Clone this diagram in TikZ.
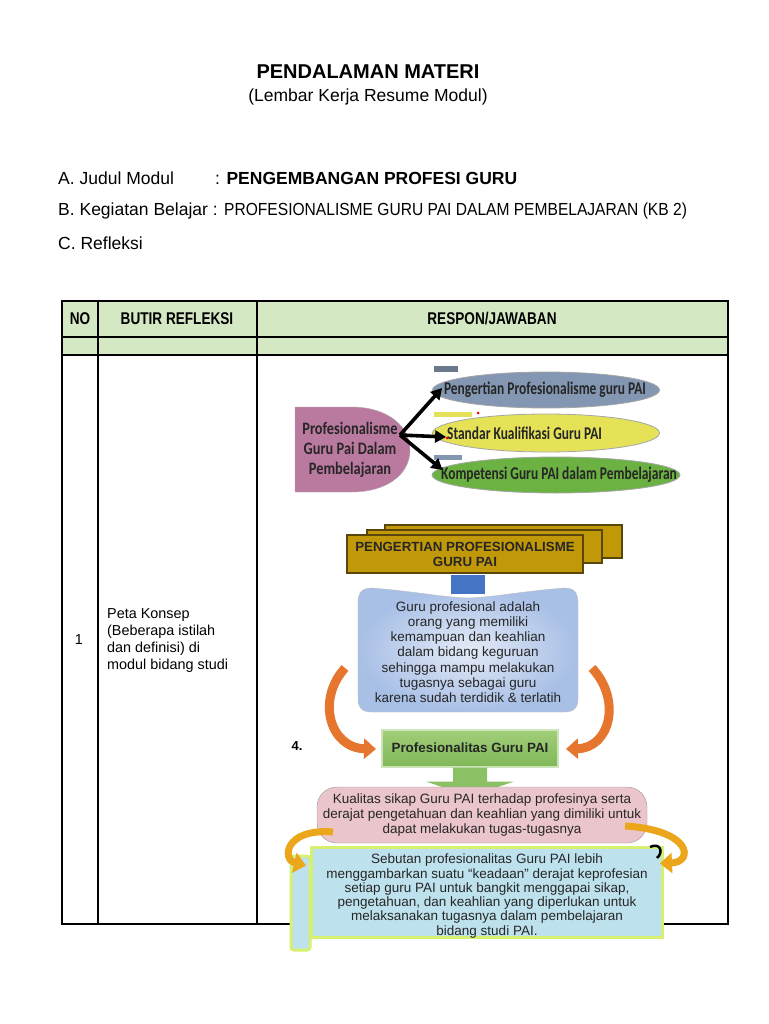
\documentclass[tikz,border=0pt]{standalone}
\usepackage{fontspec}
\usepackage{graphicx}
\setmainfont{Liberation Sans}
\newfontfamily\calib{Carlito}
\usetikzlibrary{shapes.geometric,arrows.meta,calc}
\definecolor{headgreen}{RGB}{213,232,196}
\definecolor{mauve}{RGB}{186,122,160}
\definecolor{bubbleblue}{RGB}{132,151,178}
\definecolor{bubbleyellow}{RGB}{229,226,88}
\definecolor{bubblegreen}{RGB}{108,178,66}
\definecolor{goldfill}{RGB}{193,152,8}
\definecolor{golddark}{RGB}{88,70,12}
\definecolor{connblue}{RGB}{70,116,196}
\definecolor{orangecurl}{RGB}{230,118,46}
\definecolor{goldcurl}{RGB}{236,166,28}
\definecolor{pinkfill}{RGB}{235,197,204}
\definecolor{cyanfill}{RGB}{190,226,237}
\definecolor{limeedge}{RGB}{214,240,112}
\definecolor{defcentre}{RGB}{228,235,247}
\definecolor{defedge}{RGB}{168,191,230}
\definecolor{greenedge}{RGB}{205,228,185}
\definecolor{greentop}{RGB}{162,206,122}
\definecolor{greenbottom}{RGB}{128,184,88}
\definecolor{calloutgreen}{RGB}{140,192,100}
\newcommand{\narrowtext}[2]{\scalebox{#1}[1]{#2}}

\tikzset{
  doctext/.style={inner sep=0pt, font=\fontsize{17.5}{21}\selectfont},
  headtext/.style={inner sep=0pt, font=\fontsize{17}{20}\selectfont\bfseries},
  celltext/.style={inner sep=0pt, align=left, font=\fontsize{14.4}{17}\selectfont},
  mapbubble/.style={ellipse, draw=black!35, line width=0.8pt, inner sep=0pt},
  maplabel/.style={inner sep=0pt, text=black!85, font=\calib\fontsize{17.9}{20}\selectfont\bfseries},
  chartbox/.style={inner sep=0pt, align=center, text=black!85, font=\fontsize{13.5}{15.2}\selectfont},
  goldbox/.style={fill=goldfill, draw=golddark, line width=1.5pt},
  bigarrow/.style={line width=3.6pt, -{Triangle[length=11pt,width=12pt]}},
  curlarrow/.style={line width=9pt, -{Triangle[length=12pt,width=20pt]}},
}

\begin{document}
\begin{tikzpicture}[x=1pt,y=-1pt]
    \useasboundingbox (0,0) rectangle (768,1024);
    \fill[white] (0,0) rectangle (768,1024);

    % Heading of the sheet
    \node[doctext, font=\fontsize{20}{24}\selectfont\bfseries] (title) at (368,72) {PENDALAMAN MATERI};
    \node[doctext] (subtitle) at (368,97) {(Lembar Kerja Resume Modul)};
    \node[doctext, anchor=west] (judulKey) at (58,178) {A. Judul Modul};
    \node[doctext, anchor=west] (judulVal) at (215,178) {: \textbf{PENGEMBANGAN PROFESI GURU}};
    \node[doctext, anchor=west] (kegiatan) at (58,211) {B. Kegiatan Belajar : \narrowtext{0.89}{PROFESIONALISME GURU PAI DALAM PEMBELAJARAN (KB 2)}};
    \node[doctext, anchor=west] (refleksi) at (58,243) {C. Refleksi};

    % Table
    \fill[headgreen] (62,301) rectangle (728,355);
    \draw[line width=1.1pt] (62,301) rectangle (728,924);
    \draw[line width=1.1pt] (62,337) -- (728,337);
    \draw[line width=1.1pt] (62,355) -- (728,355);
    \draw[line width=1.1pt] (98,301) -- (98,924);
    \draw[line width=1.1pt] (257,301) -- (257,924);
    \node[headtext] (hNo) at (80,319) {\narrowtext{0.8}{NO}};
    \node[headtext] (hButir) at (177,319) {\narrowtext{0.8}{BUTIR REFLEKSI}};
    \node[headtext] (hRespon) at (492,319) {\narrowtext{0.8}{RESPON/JAWABAN}};
    \node[celltext] (no1) at (79,640) {1};
    \node[celltext, anchor=west] (butir1) at (107,641) {Peta Konsep\\(Beberapa istilah\\dan definisi) di\\modul bidang studi};

    % Concept map: centre shape and three bubbles
    \draw[draw=black!30, fill=mauve] (295,407) -- (352,407) .. controls (386,407) and (410,425) .. (410,450)
        .. controls (410,475) and (386,492) .. (352,492) -- (295,492) -- cycle;
    \node[maplabel, font=\calib\fontsize{17.5}{20}\selectfont\bfseries] (profNode) at (350,450)
        {\narrowtext{0.82}{\begin{tabular}{@{}c@{}}Profesionalisme\\Guru Pai Dalam\\Pembelajaran\end{tabular}}};

    \fill[bubbleblue!80!black] (434,366) rectangle (458,372);
    \fill[bubbleyellow] (434,412) rectangle (472,417);
    \fill[bubbleblue] (434,455) rectangle (462,460);
    \node[mapbubble, fill=bubbleblue, minimum width=227pt, minimum height=36pt] (elPeng) at (546,390) {};
    \node[mapbubble, fill=bubbleyellow, minimum width=227pt, minimum height=38pt] (elStandar) at (546,433) {};
    \node[mapbubble, fill=bubblegreen, minimum width=248pt, minimum height=36pt] (elKomp) at (556,475) {};
    \node[maplabel] (lbPeng) at (545,390) {\narrowtext{0.75}{Pengertian Profesionalisme guru PAI}};
    \node[maplabel, anchor=west] (lbStandar) at (447,433) {\narrowtext{0.75}{Standar Kualifikasi Guru PAI}};
    \node[maplabel] (lbKomp) at (559,475) {\narrowtext{0.75}{Kompetensi Guru PAI dalam Pembelajaran}};
    \fill[red] (478,413) circle (1.5);

    \coordinate (hub) at (400,435);
    \draw[bigarrow] (hub) -- ($(elPeng.west)+(10,-2)$);
    \draw[bigarrow] (hub) -- ($(elStandar.west)+(14,4)$);
    \draw[bigarrow] (hub) -- ($(elKomp.west)+(11,-5)$);
    \fill[red] (447,438) circle (1.5);

    % Definition block
    \draw[goldbox] (385,525) rectangle (622,558);
    \draw[goldbox] (367,530) rectangle (602,563);
    \node[goldbox, minimum width=236pt, minimum height=38pt, inner sep=0pt, align=center, text=black!85,
        font=\fontsize{13.3}{15}\selectfont\bfseries] (pengHead) at (465,554) {PENGERTIAN PROFESIONALISME\\GURU PAI};
    \fill[connblue] ($(pengHead.south)+(-14,1)$) rectangle ($(pengHead.south)+(20,20)$);

    \coordinate (curlL) at (345,668);
    \coordinate (curlR) at (592,668);
    \draw[curlarrow, orangecurl] (curlL) .. controls (316,700) and (330,748) .. (376,749);
    \draw[curlarrow, orangecurl] (curlR) .. controls (622,700) and (610,748) .. (566,749);

    \draw[draw=black!25, inner color=defcentre, outer color=defedge]
        (358,604) .. controls (358,592) and (362,588) .. (372,588) .. controls (420,592) and (440,597) .. (468,598)
        .. controls (496,597) and (516,592) .. (564,588) .. controls (574,588) and (578,592) .. (578,604)
        -- (578,698) .. controls (578,708) and (574,712) .. (564,712) -- (372,712)
        .. controls (362,712) and (358,708) .. (358,698) -- cycle;
    \node[chartbox, minimum width=220pt, minimum height=120pt] (defBox) at (468,652)
        {Guru profesional adalah\\orang yang memiliki\\kemampuan dan keahlian\\dalam bidang keguruan\\sehingga mampu melakukan\\tugasnya sebagai guru\\karena sudah terdidik \& terlatih};

    % Profesionalitas part
    \node[inner sep=0pt, font=\fontsize{13}{15}\selectfont\bfseries] (nomor4) at (297,746) {4.};
    \node[chartbox, minimum width=176pt, minimum height=37pt, draw=greenedge, line width=2pt,
        top color=greentop, bottom color=greenbottom,
        font=\fontsize{13.4}{15}\selectfont\bfseries] (profGreen) at (470,748) {Profesionalitas Guru PAI};
    \fill[calloutgreen] ($(profGreen.south)+(-17,0)$) -- ++(0,14) -- ++(-27,0) -- ++(44,15)
        -- ++(44,-15) -- ++(-27,0) -- ++(0,-14) -- cycle;

    \node[chartbox, draw=black!40, fill=pinkfill, rounded corners=20pt, minimum width=330pt, minimum height=56pt]
        (kualitas) at (482,815) {Kualitas sikap Guru PAI terhadap profesinya serta\\derajat pengetahuan dan keahlian yang dimiliki untuk\\dapat melakukan tugas-tugasnya};

    \draw[fill=cyanfill, draw=limeedge, line width=3pt, rounded corners=3pt] (291,856) rectangle (310,950);
    \node[chartbox, fill=cyanfill, draw=limeedge, line width=3pt, minimum width=351pt, minimum height=90pt,
        font=\fontsize{13.5}{14.3}\selectfont] (sebutan) at (487,892) {};
    \node[chartbox, font=\fontsize{13.5}{14.3}\selectfont] (sebutanText) at (487,896) {Sebutan profesionalitas Guru PAI lebih\\menggambarkan suatu ``keadaan'' derajat keprofesian\\setiap guru PAI untuk bangkit menggapai sikap,\\pengetahuan, dan keahlian yang diperlukan untuk\\melaksanakan tugasnya dalam pembelajaran\\bidang studi PAI.};

    \coordinate (curlBL) at (333,832);
    \coordinate (curlBR) at (625,826);
    \draw[curlarrow, goldcurl, line width=7pt] (curlBL) .. controls (284,828) and (282,860) .. ($(sebutan.north west)+(-4,20)$);
    \draw[curlarrow, goldcurl, line width=7pt] (curlBR) .. controls (692,830) and (694,862) .. ($(sebutan.north east)+(-4,18)$);
    \draw[line width=2.5pt] (650,847) .. controls (660,842) and (664,852) .. (657,858);
\end{tikzpicture}
\end{document}
